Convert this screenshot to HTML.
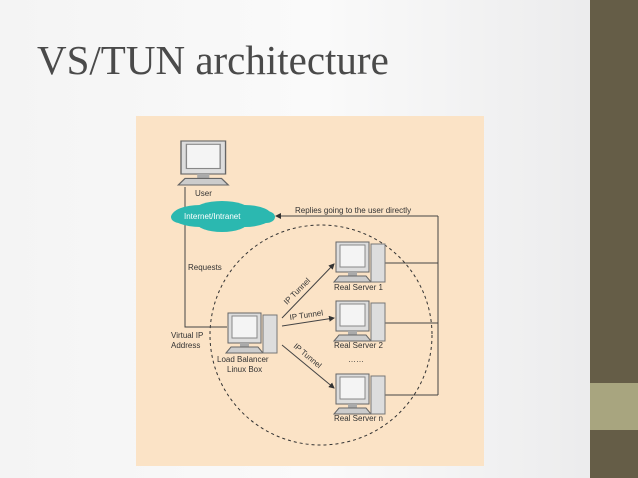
<!DOCTYPE html>
<html><head><style>
body{margin:0;width:638px;height:478px;overflow:hidden;background:linear-gradient(90deg,#f4f4f4 0%,#fafafa 50%,#ececed 92%);position:relative;font-family:"Liberation Sans",sans-serif}
.side{position:absolute;left:590px;top:0;width:48px;height:478px;background:#655d47}
.band{position:absolute;left:590px;top:383px;width:48px;height:47px;background:#a8a57f}
h1{position:absolute;left:37px;top:36px;margin:0;font-weight:normal;font-size:41px;color:#4a4a4a;font-family:"Liberation Serif",serif}
svg{position:absolute;left:0;top:0}
</style></head><body>
<div class="side"></div><div class="band"></div>
<h1>VS/TUN architecture</h1>
<svg width="638" height="478" font-family="Liberation Sans, sans-serif" font-size="8" fill="#333">
<defs>
<marker id="a" markerWidth="6" markerHeight="6" refX="5" refY="3" orient="auto"><path d="M0,0L6,3L0,6z" fill="#333"/></marker>
<g id="mon">
<rect x="0" y="0" width="33" height="30" fill="#ddd" stroke="#666"/>
<rect x="4" y="3" width="25" height="22" fill="#f4f4f4" stroke="#888"/>
<rect x="12" y="30" width="9" height="4" fill="#aaa"/>
<path d="M-2,40 L3,34 L30,34 L35,40 Z" fill="#ccc" stroke="#666"/>
</g>
<g id="srv">
<use href="#mon"/>
<rect x="35" y="2" width="14" height="38" fill="#ddd" stroke="#777"/>
</g>
</defs>
<rect x="136" y="116" width="348" height="350" fill="#fbe3c6"/>
<ellipse cx="321" cy="335" rx="111" ry="110" fill="none" stroke="#333" stroke-dasharray="3,3"/>
<g stroke="#444" fill="none">
<path d="M185,187V327H227"/>
<path d="M438,216H276" marker-end="url(#a)"/>
<path d="M438,216V395M385,263H438M385,323H438M385,395H438"/>
<path d="M282,318L334,264" marker-end="url(#a)"/>
<path d="M282,326L334,318" marker-end="url(#a)"/>
<path d="M282,345L334,388" marker-end="url(#a)"/>
</g>
<g transform="translate(181,141) scale(1.35,1.1)"><use href="#mon"/></g>
<text x="195" y="196">User</text>
<g fill="#2bb8b0">
<ellipse cx="200" cy="216" rx="28" ry="11"/><ellipse cx="245" cy="216" rx="27" ry="11"/>
<ellipse cx="222" cy="211" rx="28" ry="10"/><ellipse cx="222" cy="222" rx="26" ry="10"/>
<ellipse cx="180" cy="217" rx="9" ry="6"/><ellipse cx="266" cy="217" rx="9" ry="6"/>
</g>
<text x="184" y="219" fill="#fff">Internet/Intranet</text>
<text x="295" y="213">Replies going to the user directly</text>
<text x="188" y="270">Requests</text>
<text x="171" y="338">Virtual IP</text>
<text x="171" y="348">Address</text>
<use href="#srv" x="228" y="313"/>
<text x="217" y="362">Load Balancer</text>
<text x="227" y="372">Linux Box</text>
<use href="#srv" x="336" y="242"/>
<text x="334" y="290">Real Server 1</text>
<use href="#srv" x="336" y="301"/>
<text x="334" y="348">Real Server 2</text>
<text x="348" y="362">……</text>
<use href="#srv" x="336" y="374"/>
<text x="334" y="421">Real Server n</text>
<text transform="translate(287,305) rotate(-45)">IP Tunnel</text>
<text transform="translate(290,320) rotate(-8)">IP Tunnel</text>
<text transform="translate(293,347) rotate(40)">IP Tunnel</text>
</svg>
</body></html>
